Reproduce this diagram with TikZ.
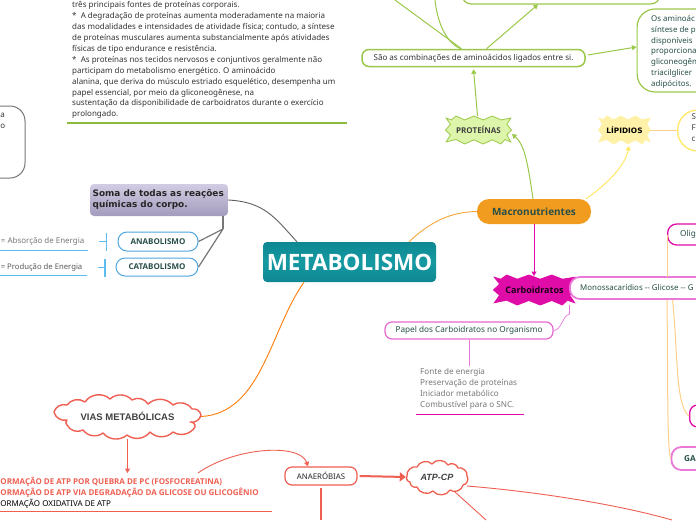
\documentclass[tikz,border=0pt]{standalone}
\usepackage{fontspec}
\setmainfont[BoldFont={Open Sans Bold}]{Noto Sans}
\newfontfamily\djv{DejaVu Sans}
\newfontfamily\lib{Liberation Sans}
\usetikzlibrary{arrows.meta,calc}
\definecolor{grn}{HTML}{9CC84A}
\definecolor{grnd}{HTML}{8BBB3C}
\definecolor{yel}{HTML}{FFE866}
\definecolor{org}{HTML}{F5A53A}
\definecolor{mac}{HTML}{F19C1F}
\definecolor{mag}{HTML}{E00CA8}
\definecolor{pnk}{HTML}{EA78D8}
\definecolor{red}{HTML}{EF5F52}
\definecolor{blu}{HTML}{4FA6DE}
\definecolor{lblu}{HTML}{5CBDF0}
\definecolor{gry}{HTML}{777777}
\definecolor{dkg}{HTML}{274F48}
\definecolor{pale}{HTML}{FFD08A}
\definecolor{teala}{HTML}{0E8792}
\definecolor{tealb}{HTML}{159AA2}
\definecolor{lava}{HTML}{D2CCE3}
\definecolor{lavb}{HTML}{A29BBC}
\definecolor{gburst}{HTML}{DDF5AA}
\definecolor{yburst}{HTML}{FFF2A8}
\tikzset{
  box/.style={draw,fill=white,rounded corners=#1,inner sep=0pt,text=dkg},
  body/.style={inner sep=0pt,align=left,anchor=north west,font=\fontsize{8}{10.9}\selectfont},
  lab/.style={inner sep=0pt},
  tip/.style={-{Triangle[length=4.5pt,width=5pt]}},
}
\newcommand{\burstshape}[6]{% cx cy hw hh fill draw
  \begin{scope}[shift={(#1,#2)},x=#3pt,y=#4pt]
   \fill[fill=#5,draw=#6,line width=0.8pt,line join=miter]
    (-1,0)--(-.85,-.35)--(-.98,-.85)--(-.68,-.68)--(-.42,-1)--(-.14,-.7)--(.14,-1)--(.42,-.7)--(.68,-1)--(.8,-.68)--(.98,-.85)
    --(.86,-.35)--(1,0)--(.86,.4)--(.98,.85)--(.68,.72)--(.42,1)--(.14,.72)--(-.14,1)--(-.42,.72)--(-.68,1)--(-.82,.72)--(-.98,.85)--(-.85,.4)--cycle;
  \end{scope}}
\begin{document}
\begin{tikzpicture}[x=1pt,y=-1pt]
\useasboundingbox (0,0) rectangle (696,520);
\clip (0,0) rectangle (696,520);
\fill[white] (0,0) rectangle (696,520);

% ---- boxes at the right, clipped by the page
\node[box=9pt,draw=mag,line width=1.3pt,minimum width=50pt,minimum height=21pt,anchor=west] (oligo) at (667,234.5) {};
\node[box=8pt,draw=mag,line width=1.3pt,minimum width=30pt,minimum height=22pt,anchor=west] (n4) at (689,416) {};
\node[box=10pt,draw=pnk,line width=1.8pt,minimum width=50pt,minimum height=23pt,anchor=west] (gal) at (670.5,458.5) {};

% ---- main nodes
\node[rounded corners=4pt,top color=teala,bottom color=teala,middle color=tealb,minimum width=173pt,minimum height=40pt,inner sep=0pt,text=white,font=\fontsize{22.5}{26}\selectfont\bfseries] (meta) at (349.5,262) {METABOLISMO};
\node[fill=mac,rounded corners=12pt,minimum width=114pt,minimum height=25pt,inner sep=0pt,text=dkg,font=\fontsize{10}{12}\selectfont\bfseries] (mac) at (534,211.5) {Macronutrientes};

\node[rounded corners=4pt,top color=lava,bottom color=lavb,minimum width=138pt,minimum height=32pt,inner sep=0pt] (soma) at (159,200) {};
\node[lab,align=left,anchor=west,text=black!85,font=\djv\fontsize{8.9}{11}\selectfont\bfseries] (somat) at (92.5,199.5) {Soma de todas as reações\\químicas do corpo.};

\node[box=9pt,draw=blu,line width=1pt,minimum width=80pt,minimum height=19pt,font=\fontsize{8}{10}\selectfont\bfseries] (ana) at (158,241.5) {ANABOLISMO};
\node[box=9pt,draw=blu,line width=1pt,minimum width=82pt,minimum height=18pt,font=\fontsize{8}{10}\selectfont\bfseries] (cat) at (157,267) {CATABOLISMO};

\node[lab,anchor=east,text=gry,font=\fontsize{7.95}{10}\selectfont] (abs) at (84.5,241) {= Absorção de Energia};
\node[lab,anchor=east,text=black!65,font=\fontsize{7.7}{10}\selectfont] (pro) at (82.5,267) {= Produção de Energia};
\coordinate (abs1) at (0,250.5); \coordinate (abs2) at (88,250.5);
\coordinate (pro1) at (0,275.5); \coordinate (pro2) at (87,275.5);
\draw[lblu,line width=1.2pt] (abs1)--(abs2);
\draw[lblu,line width=1.2pt] (pro1)--(pro2);
\coordinate (b1t) at (106.5,232.5); \coordinate (b1b) at (106.5,250.5); \coordinate (b1m) at (106.5,241.5); \coordinate (b1l) at (99,241.5);
\coordinate (b2t) at (105,259); \coordinate (b2b) at (105,276.5); \coordinate (b2m) at (105,267.5); \coordinate (b2l) at (98,267.5);
\draw[lblu,line width=1.2pt] (b1t)--(b1b) (b1m)--(b1l) (b2t)--(b2b) (b2m)--(b2l);

% left clipped box
\node[draw=gry,line width=1pt,rounded corners=15pt,fill=white,minimum width=50pt,minimum height=72pt,anchor=east,inner sep=0pt] (lbox) at (25.5,142) {};
\node[lab,anchor=west,font=\fontsize{8}{10}\selectfont,text=black!80] (la) at (0.3,115) {a};
\node[lab,anchor=west,font=\fontsize{8}{10}\selectfont,text=black!80] (lb) at (0.3,126) {o};

% top text block
\node[body,text=black!80] (ptxt) at (72,1.5) {três principais fontes de proteínas corporais.\\
*\ \ A degradação de proteínas aumenta moderadamente na maioria\\
das modalidades e intensidades de atividade física; contudo, a síntese\\
de proteínas musculares aumenta substancialmente após atividades\\
físicas de tipo endurance e resistência.\\
*\ \ As proteínas nos tecidos nervosos e conjuntivos geralmente não\\
participam do metabolismo energético. O aminoácido\\
alanina, que deriva do músculo estriado esquelético, desempenha um\\
papel essencial, por meio da gliconeogênese, na\\
sustentação da disponibilidade de carboidratos durante o exercício\\
prolongado.};
\coordinate (pl1) at (67,123); \coordinate (pl2) at (347,123);
\draw[grnd,line width=1.1pt] (pl1)--(pl2);

% proteins
\node[box=7pt,draw=grn,line width=1.5pt,minimum width=223pt,minimum height=17pt,text=black!80,font=\fontsize{8.05}{10}\selectfont] (sao) at (473.5,58) {São as combinações de aminoácidos ligados entre si.};
\node[box=9pt,draw=grn,line width=1.2pt,minimum width=198pt,minimum height=24pt,anchor=south] (topn) at (561,4.5) {};
\node[box=18pt,draw=grn,line width=1.2pt,minimum width=90pt,minimum height=83pt,anchor=west] (ami) at (636.5,50.5) {};
\node[lab,align=left,anchor=north west,text=dkg,font=\fontsize{7.9}{10.9}\selectfont] (amit) at (651,15) {Os aminoác\\síntese de p\\disponíveis\\proporciona\\gliconeogên\\triacilglicer\\adipócitos.};
\coordinate (u1) at (395,0); \coordinate (u2) at (435,0);

\burstshape{478.5}{130}{33}{14}{gburst}{grn}
\node[lab,text=black!75,font=\fontsize{8}{10}\selectfont\bfseries] (prot) at (478.5,130) {PROTEÍNAS};
\burstshape{624.5}{130}{26}{14}{yburst}{yburst}
\node[lab,text=black,font=\djv\fontsize{7.4}{10}\selectfont\bfseries] (lip) at (624.5,130) {LÍPIDIOS};
\node[box=20pt,draw=yel,line width=1.3pt,minimum width=50pt,minimum height=41pt,anchor=west] (lch) at (677,130.5) {};
\node[lab,align=left,anchor=north west,text=black!75,font=\fontsize{8}{10.9}\selectfont] (lcht) at (691.5,113.5) {S\\F\\c};

% carbohydrates
\burstshape{534.5}{290}{41}{15}{mag}{mag}
\node[box=10pt,draw=pnk,line width=1.8pt,minimum width=140pt,minimum height=22pt,anchor=west] (mono) at (569,288) {};
\node[lab,anchor=west,text=dkg,font=\fontsize{7.9}{10}\selectfont] (monot) at (580,288) {Monossacarídios -{}- Glicose -{}- G};
\node[lab,text=black!80!violet,font=\fontsize{9}{10}\selectfont\bfseries] (carb) at (534.5,290) {Carboidratos};
\node[lab,anchor=west,text=dkg,font=\fontsize{8.2}{10}\selectfont] (olit) at (680,234.5) {Olig};
\node[lab,anchor=west,text=dkg,font=\fontsize{8.2}{10}\selectfont\bfseries] (galt) at (684,459) {GA};

\node[box=7pt,draw=pnk!85!mag,line width=1.2pt,minimum width=168pt,minimum height=17pt,font=\fontsize{8.2}{10}\selectfont] (papel) at (469,330.5) {Papel dos Carboidratos no Organismo};
\node[lab,align=left,anchor=north west,text=gry,font=\fontsize{8.15}{10.9}\selectfont] (fonte) at (420,368.5) {Fonte de energia\\Preservação de proteínas\\Iniciador metabólico\\Combustível para o SNC.};
\coordinate (f1) at (415.5,414.5); \coordinate (f2) at (524,414.5);
\draw[mag,line width=1.1pt] (f1)--(f2);

% metabolic paths
\draw[red,line width=1.4pt,fill=white,line join=round] (54,412) to[bend left=45] (67,405) to[bend left=45] (85,402) to[bend left=50] (110,399) to[bend left=45] (132,400) to[bend left=45] (148,404) to[bend left=45] (173,405) to[bend left=45] (192,409) to[bend left=45] (201,415) to[bend left=45] (190,422) to[bend left=60] (195,427) to[bend left=45] (173,432) to[bend left=45] (150,432) to[bend left=45] (127,435) to[bend left=45] (103,433) to[bend left=45] (83,430) to[bend left=45] (67,425) to[bend left=60] (67,420) to[bend left=45] cycle;
\node[minimum width=147pt,minimum height=38pt,inner sep=0pt,text=black!75,font=\lib\fontsize{9.5}{11}\selectfont\bfseries] (vias) at (127.5,416.5) {VIAS METABÓLICAS};
\node[lab,align=left,anchor=north west,font=\fontsize{8}{11}\selectfont] (form) at (0.3,476.5) {\textcolor{red}{\bfseries ORMAÇÃO DE ATP POR QUEBRA DE PC (FOSFOCREATINA)}\\\textcolor{red}{\bfseries ORMAÇÃO DE ATP VIA DEGRADAÇÃO DA GLICOSE OU GLICOGÊNIO}\\ORMAÇÃO OXIDATIVA DE ATP};
\coordinate (fl1) at (0,511.5); \coordinate (fl2) at (272,511.5); \coordinate (fa) at (198,473);
\draw[red,line width=1.1pt] (fl1)--(fl2);
\node[box=7pt,draw=red,line width=1.2pt,minimum width=72pt,minimum height=18pt,text=black!85,font=\fontsize{7.8}{10}\selectfont] (ana2) at (321,476) {ANAERÓBIAS};
\draw[red,line width=1.3pt,fill=white,line join=round] (407,476) to[bend left=60] (417,467) to[bend left=60] (432,464) to[bend left=60] (448,465) to[bend left=60] (458,468) to[bend left=60] (467,476) to[bend left=60] (463,485) to[bend left=60] (450,490) to[bend left=60] (433,491) to[bend left=60] (417,487) to[bend left=60] (410,482) to[bend left=60] cycle;
\node[minimum width=60pt,minimum height=30pt,inner sep=0pt,text=black!75,font=\lib\fontsize{9}{11}\selectfont\bfseries\itshape] (atp) at (437,477) {ATP-CP};
\coordinate (d1) at (321,520); \coordinate (d2) at (486,520); \coordinate (d3) at (672,520);

% ---- connectors
\draw[gry!80!black,line width=.9pt] (soma.east) .. controls (265,202) and (275,218) .. ([xshift=-52.5pt]meta.north);
\draw[gry,line width=1.7pt] ([xshift=64pt]soma.south) -- (223,229) coordinate (j);
\draw[gry,line width=1.2pt] (j) -- (ana.east) (j) -- (cat.east);
\draw[org,line width=.9pt] ([xshift=59.5pt]meta.north) .. controls (430,222) and (450,212) .. (mac.west);
\draw[orange!90!red,line width=.9pt] ([xshift=-45.5pt]meta.south) .. controls (270,330) and (262,413) .. (vias.east);
\draw[red,line width=1pt,tip] ([yshift=-3pt]vias.south) -- (127.5,473);
\draw[red,line width=.9pt,tip] (fa) .. controls (235,447) and (300,443) .. ([xshift=-13pt]ana2.north);
\draw[red,line width=2pt,-{Triangle[length=6pt,width=9pt]}] ([xshift=2pt]ana2.east) -- ([xshift=-1pt]atp.west);
\draw[red,line width=2pt] ([yshift=-2pt]ana2.south) -- (d1);
\draw[red,line width=.9pt] ([xshift=30pt,yshift=-9pt]atp.center) .. controls (540,492) and (620,505) .. (d3);
\draw[red,line width=.9pt] ([xshift=18pt,yshift=-15pt]atp.center) -- (d2);

\draw[grn,line width=1pt,tip] ([xshift=-1pt]mac.north) .. controls (528,165) and (525,145) .. (512,134);
\draw[yel,line width=1pt,tip] ([xshift=52pt]mac.north) .. controls (610,182) and (625,165) .. (629,146);
\draw[mag,line width=1pt,tip] (mac.south) -- (534,276);
\draw[grn,line width=1pt,tip] (477.5,116) -- ([yshift=-2pt]sao.south);
\draw[grn,line width=1pt,tip] ([xshift=13pt]sao.north) -- ([xshift=-23pt]topn.south);
\draw[grn,line width=1pt] ([xshift=-12pt]sao.north) -- (u1);
\draw[grn,line width=1pt] ([xshift=-13pt]sao.north) .. controls (445,42) and (437,20) .. (u2);
\draw[grn,line width=1pt,tip] ([xshift=2pt,yshift=3pt]sao.east) -- ([yshift=3.5pt]ami.west);
\draw[pale,line width=1pt] (650,130.5) -- (lch.west);

\draw[pnk,line width=.7pt] (papel.east) .. controls (562,330) and (562,316) .. (569.5,314) -- (569.5,305);
\draw[pnk,line width=.9pt] (papel.south) -- (469,366);

\draw[pale,line width=1pt] (oligo.west) -- (667,277);
\draw[pale,line width=1pt] (667,300) .. controls (668,380) and (667,445) .. (gal.west);
\draw[pale,line width=1pt] (672.5,300) .. controls (678,350) and (675,405) .. (n4.west);
\end{tikzpicture}
\end{document}
